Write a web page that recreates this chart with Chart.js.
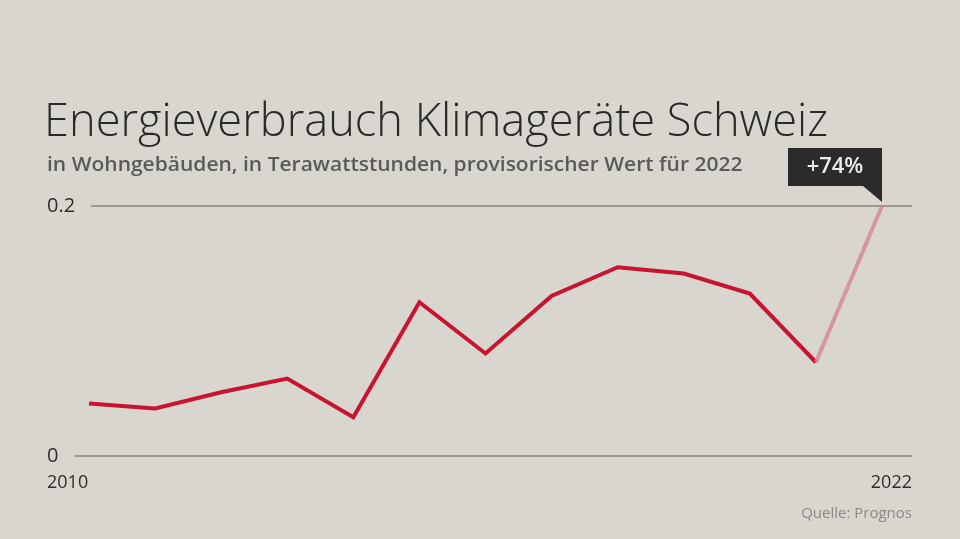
<!DOCTYPE html>
<html>
<head>
<meta charset="utf-8">
<script src="https://cdn.jsdelivr.net/npm/chart.js@4"></script>
<style>
  html, body { margin: 0; padding: 0; background: #d9d6d0; }
  #wrap { position: relative; width: 960px; height: 539px; overflow: hidden; }
  canvas { position: absolute; left: 0; top: 0; }
  .txt { position: absolute; white-space: nowrap; transform-origin: 0 0; font-family: "Open Sans", sans-serif; }
  #title { left: 44px; top: 95px; font-size: 46px; font-weight: 300; color: #2a2a2a; line-height: 1; }
  #subtitle { left: 47px; top: 154px; font-size: 20px; font-weight: 600; color: #5a5a5a; line-height: 1; }
  #source { right: 48px; top: 505px; font-size: 15px; color: #8a8a8a; line-height: 1; }
</style>
</head>
<body>
<div id="wrap">
  <canvas id="chart" width="960" height="539"></canvas>
  <div class="txt" id="title">Energieverbrauch Klimageräte Schweiz</div>
  <div class="txt" id="subtitle">in Wohngebäuden, in Terawattstunden, provisorischer Wert für 2022</div>
  <div class="txt" id="source">Quelle: Prognos</div>
</div>
<script>
// Energy use of air conditioners in Swiss homes, TWh (2022 provisional)
const years = [2010, 2011, 2012, 2013, 2014, 2015, 2016, 2017, 2018, 2019, 2020, 2021, 2022];
const values = [0.042, 0.038, 0.051, 0.062, 0.031, 0.123, 0.082, 0.128, 0.151, 0.146, 0.130, 0.075, 0.200];
const yTicks = [0, 0.2];
const yTickLabels = ["0", "0.2"];
const xTickLabels = ["2010", "2022"];
const badgeText = "+74%";

// squeeze the header texts to the width they have in the original
function fitWidth(id, w) {
    const el = document.getElementById(id);
    el.style.transform = "scaleX(" + (w / el.scrollWidth) + ")";
}
fitWidth("title", 784);
fitWidth("subtitle", 695);

const gridPlugin = {
    id: "grid",
    beforeDatasetsDraw(chart) {
        const ctx = chart.ctx;
        const y = chart.scales.y;
        const area = chart.chartArea;
        ctx.save();
        ctx.font = '20px "Open Sans", sans-serif';
        ctx.textBaseline = "middle";
        ctx.fillStyle = "#2e2e2e";
        yTicks.forEach((v, i) => {
            const py = y.getPixelForValue(v);
            ctx.textAlign = "left";
            ctx.fillText(yTickLabels[i], 47, py);
            const w = ctx.measureText(yTickLabels[i]).width;
            ctx.strokeStyle = "#9c9994";
            ctx.lineWidth = 2;
            ctx.beginPath();
            ctx.moveTo(47 + w + 16, py);
            ctx.lineTo(area.right + 30, py);
            ctx.stroke();
        });
        ctx.font = '18px "Open Sans", sans-serif';
        const ly = y.getPixelForValue(0) + 27;
        ctx.textAlign = "left";
        ctx.fillText(xTickLabels[0], 47, ly);
        ctx.textAlign = "right";
        ctx.fillText(xTickLabels[1], area.right + 30, ly);
        ctx.restore();
    },
    afterDraw(chart) {
        const ctx = chart.ctx;
        const meta = chart.getDatasetMeta(0);
        const last = meta.data[meta.data.length - 1];
        const px = last.x, py = last.y;
        ctx.save();
        ctx.fillStyle = "#2b2b2b";
        ctx.beginPath();
        ctx.moveTo(px - 94, py - 58);
        ctx.lineTo(px, py - 58);
        ctx.lineTo(px, py - 4);
        ctx.lineTo(px - 19, py - 20);
        ctx.lineTo(px - 94, py - 20);
        ctx.closePath();
        ctx.fill();
        ctx.fillStyle = "#ededed";
        ctx.font = '600 22px "Open Sans", sans-serif';
        ctx.textAlign = "center";
        ctx.textBaseline = "middle";
        ctx.fillText(badgeText, px - 47, py - 39);
        ctx.restore();
    }
};

new Chart(document.getElementById("chart"), {
    type: "line",
    data: {
        labels: years,
        datasets: [{
            data: values,
            borderColor: "#c8142f",
            borderWidth: 4,
            pointRadius: 0,
            tension: 0,
            clip: false,
            borderJoinStyle: "miter",
            segment: {
                borderColor: c => c.p1DataIndex === values.length - 1 ? "rgba(212,128,138,0.75)" : undefined
            }
        }]
    },
    options: {
        responsive: false,
        animation: false,
        layout: { padding: { left: 89, right: 78, top: 206, bottom: 83 } },
        scales: {
            x: { type: "linear", min: years[0], max: years[years.length - 1], display: false },
            y: { min: 0, max: 0.2, display: false }
        },
        plugins: {
            legend: { display: false },
            tooltip: { enabled: false }
        }
    },
    plugins: [gridPlugin]
});
</script>
</body>
</html>
